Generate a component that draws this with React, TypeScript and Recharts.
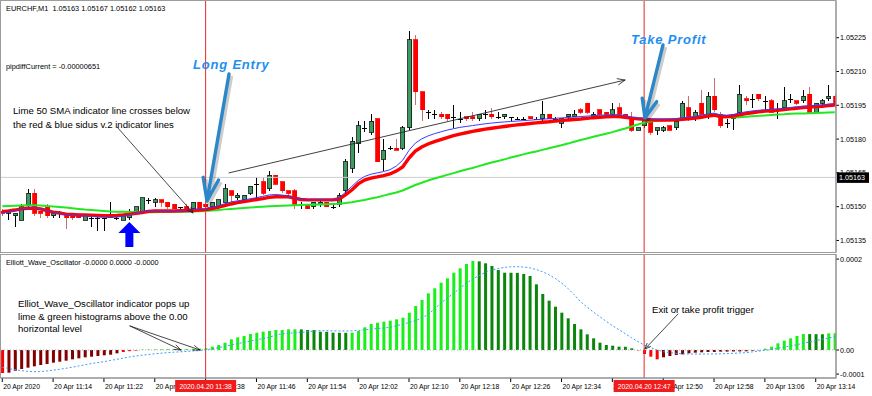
import { Bar, Cell, ComposedChart, Line, ReferenceDot, ReferenceLine, XAxis, YAxis } from "recharts";

const FONT = '"Liberation Sans", Arial, Helvetica, sans-serif';

// EURCHF M1, 20 Apr 2020, one entry per minute bar from 11:06 to 13:17.
// Quotes are written in points above 1.05000 (1.05148 -> 148).
const BASE = 1.05;
const POINT = 0.00001;

const opens = [
  148, 147, 146, 144, 151, 156, 148, 150, 146, 147,
  147, 146, 146, 144, 145, 145, 145, 145, 145, 144,
  145, 148, 148, 153, 152, 153, 152, 151, 150, 150,
  149, 152, 151, 150, 150, 152, 157, 154, 153, 156,
  160, 161, 158, 164, 161, 157, 157, 151, 151, 150,
  151, 152, 150, 151, 157, 167, 178, 185, 183, 189,
  171, 176, 176, 176, 185, 224, 201, 192, 191, 191,
  191, 190, 189, 190, 190, 189, 191, 191, 190, 190,
  190, 189, 189, 190, 189, 189, 191, 189, 187, 190,
  190, 193, 196, 190, 193, 192, 191, 194, 191, 189,
  184, 186, 188, 184, 184, 186, 185, 189, 194, 189,
  196, 190, 199, 191, 187, 189, 192, 198, 198, 200,
  197, 197, 193, 194, 198, 197, 197, 200, 192, 196,
  198, 199,
];
const highs = [
  149, 148, 147, 151, 158, 158, 148, 151, 148, 148,
  147, 146, 147, 146, 146, 146, 145, 152, 146, 146,
  149, 150, 154, 154, 154, 153, 152, 151, 150, 151,
  152, 152, 151, 152, 153, 160, 157, 156, 155, 159,
  163, 163, 166, 164, 161, 157, 158, 152, 151, 152,
  153, 152, 151, 156, 171, 181, 188, 188, 191, 189,
  180, 177, 180, 186, 228, 226, 201, 193, 193, 192,
  191, 195, 192, 190, 192, 191, 193, 194, 192, 191,
  190, 190, 190, 190, 190, 197, 191, 190, 189, 191,
  193, 194, 196, 192, 193, 192, 196, 196, 191, 192,
  185, 189, 189, 185, 186, 186, 188, 197, 199, 193,
  202, 201, 207, 192, 189, 191, 204, 199, 200, 200,
  199, 198, 196, 203, 200, 197, 202, 203, 196, 198,
  204, 200,
];
const lows = [
  146, 144, 141, 144, 149, 146, 145, 145, 145, 145,
  140, 144, 145, 144, 141, 139, 139, 145, 144, 144,
  144, 147, 148, 151, 150, 150, 149, 149, 149, 148,
  149, 149, 149, 150, 149, 152, 152, 153, 153, 155,
  154, 155, 157, 160, 156, 155, 149, 149, 149, 149,
  150, 150, 149, 150, 156, 165, 174, 183, 182, 170,
  166, 175, 175, 175, 184, 195, 188, 189, 189, 189,
  188, 185, 187, 188, 188, 188, 189, 189, 189, 189,
  188, 189, 189, 189, 189, 187, 189, 189, 185, 189,
  190, 191, 191, 189, 190, 190, 190, 190, 189, 183,
  184, 185, 182, 182, 183, 184, 184, 188, 188, 188,
  190, 189, 192, 185, 185, 184, 191, 195, 194, 197,
  193, 192, 189, 193, 196, 195, 196, 191, 191, 195,
  197, 194,
];
const closes = [
  147, 148, 147, 150, 156, 147, 147, 146, 147, 147,
  145, 145, 145, 146, 145, 145, 145, 146, 145, 146,
  146, 150, 154, 153, 153, 152, 150, 149, 150, 149,
  152, 149, 150, 152, 153, 158, 155, 155, 155, 159,
  160, 156, 164, 160, 157, 156, 151, 151, 149, 152,
  152, 150, 150, 155, 170, 179, 186, 185, 188, 170,
  175, 176, 175, 185, 224, 201, 193, 192, 191, 190,
  189, 190, 189, 189, 189, 191, 191, 190, 190, 191,
  190, 189, 189, 189, 189, 191, 189, 189, 189, 191,
  191, 192, 192, 191, 191, 191, 193, 191, 190, 184,
  185, 189, 183, 185, 185, 184, 188, 196, 189, 192,
  191, 199, 193, 186, 187, 191, 200, 197, 198, 198,
  197, 192, 193, 197, 198, 196, 199, 192, 196, 197,
  199, 195,
];

// sidus v.2 lines and the 50 SMA, same point units
const sidusBlue = [
  147.2, 147.6, 148.2, 148.9, 149.4, 149.5, 149.1, 148.3, 147.4, 146.9,
  146.4, 146.1, 145.9, 145.9, 145.7, 145.5, 145.3, 145.3, 145.4, 145.7,
  146.3, 147.0, 147.6, 148.1, 148.3, 148.3, 148.2, 148.2, 148.3, 148.4,
  148.6, 148.8, 149.1, 149.7, 150.4, 151.3, 152.1, 152.6, 153.0, 153.5,
  154.0, 154.6, 155.2, 155.4, 155.1, 154.6, 153.8, 153.2, 152.9, 153.0,
  153.1, 153.0, 152.9, 153.8, 156.4, 159.0, 161.6, 163.4, 164.4, 165.0,
  165.6, 166.4, 168.0, 170.6, 175.0, 178.2, 180.1, 181.4, 182.4, 183.2,
  184.0, 184.6, 185.2, 185.6, 186.0, 186.4, 186.8, 187.1, 187.4, 187.6,
  187.8, 188.0, 188.2, 188.4, 188.6, 188.8, 189.0, 189.2, 189.4, 189.6,
  189.8, 190.0, 190.2, 190.4, 190.6, 190.7, 190.8, 190.8, 190.4, 189.8,
  189.4, 189.2, 189.0, 188.8, 188.8, 188.8, 189.0, 189.4, 189.7, 190.1,
  190.6, 191.2, 191.5, 190.8, 190.6, 190.9, 191.6, 192.1, 192.5, 192.8,
  193.0, 193.2, 193.4, 193.7, 194.0, 194.3, 194.6, 194.8, 195.0, 195.2,
  195.5, 195.7,
];
const sidusRed = [
  147.8, 148.1, 148.5, 149.0, 149.3, 149.3, 149.0, 148.3, 147.6, 147.2,
  146.7, 146.5, 146.3, 146.3, 146.2, 146.1, 146.0, 146.0, 146.1, 146.3,
  146.6, 147.0, 147.4, 147.9, 148.1, 148.1, 148.1, 148.1, 148.2, 148.3,
  148.4, 148.5, 148.7, 149.2, 149.8, 150.5, 151.2, 151.8, 152.3, 152.7,
  153.2, 153.6, 154.1, 154.4, 154.5, 154.4, 153.8, 153.2, 153.0, 153.0,
  153.0, 153.0, 153.0, 153.4, 155.2, 157.4, 160.1, 161.8, 162.7, 163.2,
  163.8, 164.5, 165.8, 167.6, 171.6, 174.7, 176.5, 177.8, 178.9, 179.8,
  180.7, 181.5, 182.2, 182.8, 183.4, 183.9, 184.4, 184.8, 185.2, 185.6,
  186.0, 186.3, 186.6, 186.9, 187.2, 187.5, 187.7, 188.0, 188.2, 188.5,
  188.7, 188.9, 189.2, 189.5, 189.7, 189.9, 190.0, 190.0, 189.7, 189.3,
  189.0, 188.8, 188.6, 188.5, 188.5, 188.5, 188.6, 188.8, 189.0, 189.3,
  189.7, 190.2, 190.6, 190.0, 189.9, 190.2, 190.8, 191.3, 191.7, 192.1,
  192.4, 192.6, 192.8, 193.1, 193.4, 193.7, 194.0, 194.2, 194.4, 194.6,
  194.9, 195.1,
];
const sma50 = [
  150.2, 150.3, 150.4, 150.5, 150.6, 150.6, 150.5, 150.3, 150.1, 149.9,
  149.6, 149.3, 149.0, 148.7, 148.5, 148.3, 148.1, 147.9, 147.8, 147.7,
  147.6, 147.6, 147.6, 147.5, 147.5, 147.6, 147.6, 147.7, 147.7, 147.8,
  147.9, 148.0, 148.1, 148.3, 148.5, 148.8, 149.0, 149.2, 149.4, 149.6,
  149.8, 150.0, 150.2, 150.3, 150.4, 150.5, 150.6, 150.7, 150.8, 150.9,
  151.0, 151.1, 151.2, 151.3, 151.6, 152.0, 152.5, 153.0, 153.6, 154.2,
  154.9, 155.6, 156.3, 157.2, 158.4, 159.6, 160.6, 161.6, 162.5, 163.3,
  164.1, 164.9, 165.7, 166.5, 167.2, 168.0, 168.8, 169.6, 170.3, 171.0,
  171.8, 172.5, 173.2, 173.9, 174.5, 175.2, 175.9, 176.6, 177.3, 178.0,
  178.8, 179.6, 180.3, 181.0, 181.7, 182.4, 183.1, 183.9, 184.7, 185.6,
  186.5, 187.3, 187.8, 188.1, 188.4, 188.6, 188.8, 189.0, 189.2, 189.5,
  189.9, 190.4, 190.9, 190.5, 189.9, 189.6, 189.7, 189.9, 190.1, 190.3,
  190.5, 190.7, 190.9, 191.0, 191.2, 191.3, 191.4, 191.5, 191.6, 191.7,
  191.8, 191.9,
];

// Elliott Wave Oscillator, in millionths (1e-6)
const ewo = [
  -50.6, -49.9, -45.5, -41.8, -38.9, -35.9, -33.0, -30.8, -27.9, -25.7,
  -23.5, -20.5, -18.3, -16.1, -14.7, -13.2, -11.7, -10.3, -7.3, -4.4,
  -2.6, -1.5, 0.9, 1.1, 1.3, 1.5, 1.8, 2.0, 2.2, 2.4,
  2.6, 3.1, 3.7, 7.3, 11.0, 16.1, 23.5, 27.9, 30.8, 35.2,
  38.1, 40.3, 41.8, 44.0, 44.0, 45.5, 45.5, 45.3, 44.0, 43.8,
  40.3, 40.1, 38.1, 37.9, 37.8, 38.2, 41.8, 49.9, 57.2, 60.1,
  62.3, 64.5, 67.5, 71.1, 82.1, 96.8, 110.0, 124.7, 135.7, 148.1,
  157.7, 170.1, 179.7, 189.2, 195.8, 195.0, 190.7, 184.8, 176.0, 170.1,
  169.9, 169.7, 167.2, 162.8, 144.5, 123.2, 108.5, 95.3, 82.1, 69.7,
  57.2, 45.5, 34.5, 25.7, 16.1, 11.0, 9.5, 7.3, 7.1, 3.7,
  -0.9, -8.8, -14.7, -20.5, -16.1, -13.2, -11.0, -9.5, -7.3, -5.9,
  -5.1, -4.4, -4.3, -3.7, -3.6, -3.3, -3.2, -2.9, -1.5, -0.7,
  2.9, 7.3, 14.7, 20.5, 25.7, 30.8, 35.2, 35.0, 34.8, 34.6,
  36.7, 36.9,
];
const ewoSignal = [
  -38.1, -40.7, -43.3, -45.3, -46.9, -47.7, -47.5, -46.2, -44.4, -42.5,
  -40.3, -37.8, -35.2, -32.6, -29.9, -27.7, -25.7, -23.1, -20.5, -17.8,
  -15.4, -13.2, -11.4, -9.9, -8.4, -7.0, -5.9, -4.8, -4.0, -3.1,
  -2.2, -1.5, 0.4, 2.6, 5.3, 8.1, 11.0, 13.9, 16.7, 19.6,
  22.4, 25.1, 27.9, 32.6, 35.6, 37.0, 37.6, 38.5, 40.3, 41.8,
  42.5, 42.5, 42.2, 42.0, 41.8, 42.2, 43.1, 44.4, 45.8, 47.1,
  48.4, 49.9, 53.2, 56.8, 60.5, 64.5, 70.4, 78.1, 90.2, 102.7,
  113.7, 124.7, 135.7, 146.7, 156.2, 163.5, 170.5, 175.6, 179.3, 181.7,
  183.0, 183.3, 182.6, 180.8, 177.1, 172.3, 165.7, 157.7, 147.4, 135.7,
  121.4, 106.3, 94.6, 83.6, 73.3, 63.4, 53.7, 45.1, 36.1, 27.1,
  18.7, 11.0, 5.3, 0.4, -3.7, -5.7, -7.3, -8.4, -8.8, -9.0,
  -9.0, -8.8, -8.8, -8.4, -7.9, -7.3, -6.6, -5.9, -4.2, -2.4,
  -0.7, 1.3, 3.7, 6.2, 8.8, 11.7, 14.5, 17.6, 20.5, 23.3,
  26.4, 29.3,
];
// histogram colour runs: L lime, G green, R red, M maroon
const ewoShadeRuns: [string, number][] = [
  ["R", 1], ["M", 18], ["R", 3], ["L", 25], ["G", 8], ["L", 20],
  ["G", 25], ["R", 4], ["M", 16], ["L", 7], ["G", 3], ["L", 2],
];

const priceTicks = [1.05135, 1.0515, 1.05165, 1.0518, 1.05195, 1.0521, 1.05225];
const ewoTicks = [-53, 0, 200];
const timeTicks = [0, 8, 16, 24, 32, 40, 48, 56, 64, 72, 80, 88, 96, 104, 112, 120, 128];
const timeTickLabels = [
  "20 Apr 2020", "20 Apr 11:14", "20 Apr 11:22", "20 Apr 11:30", "20 Apr 11:38",
  "20 Apr 11:46", "20 Apr 11:54", "20 Apr 12:02", "20 Apr 12:10", "20 Apr 12:18",
  "20 Apr 12:26", "20 Apr 12:34", "20 Apr 12:42", "20 Apr 12:50", "20 Apr 12:58",
  "20 Apr 13:06", "20 Apr 13:14",
];
const markerBars = [32, 101];
const markerLabels = ["2020.04.20 11:38", "2020.04.20 12:47"];
const lastPrice = 1.05163;

const X_DOMAIN: [number, number] = [-0.2, 131.19];
const PRICE_DOMAIN: [number, number] = [1.0512988, 1.0524129];
const EWO_DOMAIN: [number, number] = [-61.6, 211.2];
const PLOT_L = 1;
const PLOT_R = 836;
const TOP_Y0 = 1;
const TOP_H = 251;

const xOf = (i: number) => PLOT_L + ((i - X_DOMAIN[0]) / (X_DOMAIN[1] - X_DOMAIN[0])) * (PLOT_R - PLOT_L);
const yOfPrice = (p: number) => TOP_Y0 + ((PRICE_DOMAIN[1] - p) / (PRICE_DOMAIN[1] - PRICE_DOMAIN[0])) * TOP_H;

const SHADE: Record<string, string> = { L: "#19f019", G: "#0b850b", R: "#ff0000", M: "#820000" };

const toPrice = (v: number) => +(BASE + v * POINT).toFixed(6);
const shades = ewoShadeRuns.flatMap(([s, n]) => Array(n).fill(s) as string[]);

const rows = opens.map((o, i) => ({
  i,
  o: toPrice(o),
  h: toPrice(highs[i]),
  l: toPrice(lows[i]),
  c: toPrice(closes[i]),
  range: [toPrice(lows[i]), toPrice(highs[i])],
  blue: toPrice(sidusBlue[i]),
  red: toPrice(sidusRed[i]),
  lime: toPrice(sma50[i]),
  ewo: ewo[i],
  sig: ewoSignal[i],
  shade: shades[i],
}));

// hand drawn arrows of the screenshot, in (bar, value) coordinates
const longEntryArrow = [{ x: 35.68, y: 1.052089 }, { x: 32.21, y: 1.051525 }];
const takeProfitArrow = [{ x: 103.97, y: 1.052218 }, { x: 101.13, y: 1.051894 }];
const trendArrow = [{ x: 35.68, y: 1.05165 }, { x: 98.0, y: 1.052062 }];
const smaNoteArrow = [{ x: 18.05, y: 1.051854 }, { x: 30.01, y: 1.051472 }];
const ewoNoteArrows = [
  [{ x: 20.1, y: 52.8 }, { x: 28.12, y: 0 }],
  [{ x: 20.1, y: 52.8 }, { x: 31.11, y: 0 }],
];
const exitArrow = [{ x: 106.33, y: 79.2 }, { x: 101.13, y: 2.2 }];
const upArrowAt = { x: 20, y: 1.051432 };

function Candle(props: any) {
  const { x, y, width, height, payload } = props;
  if (!payload || height == null) return null;
  const { o, h, l, c } = payload;
  const k = h > l ? height / (h - l) : 0;
  const cx = Math.round(x + width / 2) + 0.5;
  const yTop = y + (h - Math.max(o, c)) * k;
  const yBot = y + (h - Math.min(o, c)) * k;
  if (c === o) {
    const yy = Math.round(yTop) + 0.5;
    return (
      <g shapeRendering="crispEdges">
        <line x1={cx} x2={cx} y1={y} y2={y + height} stroke="#000" />
        <line x1={cx - 2.5} x2={cx + 2.5} y1={yy} y2={yy} stroke="#000" />
      </g>
    );
  }
  const bull = c > o;
  return (
    <g shapeRendering="crispEdges">
      <line x1={cx} x2={cx} y1={y} y2={y + height} stroke={bull ? "#000" : "#c87070"} />
      <rect
        x={cx - 2}
        y={yTop}
        width={4}
        height={Math.max(1, yBot - yTop)}
        fill={bull ? "#3a9c62" : "#ff0000"}
        stroke={bull ? "#111" : "#ff0000"}
        strokeWidth={0.8}
      />
    </g>
  );
}

function arrowShape(color: string, width: number, head: number, spread: number, shadow = false) {
  return (p: any) => {
    const { x1, y1, x2, y2 } = p;
    const a = Math.atan2(y2 - y1, x2 - x1);
    const ax = x2 - head * Math.cos(a - spread);
    const ay = y2 - head * Math.sin(a - spread);
    const bx = x2 - head * Math.cos(a + spread);
    const by = y2 - head * Math.sin(a + spread);
    const d = `M${x1},${y1}L${x2},${y2}M${ax},${ay}L${x2},${y2}L${bx},${by}`;
    return (
      <g>
        {shadow && (
          <path d={d} transform="translate(2,2)" stroke="rgba(0,0,0,0.2)" strokeWidth={width + 1} fill="none" />
        )}
        <path d={d} stroke={color} strokeWidth={width} fill="none" strokeLinecap="round" strokeLinejoin="round" />
      </g>
    );
  };
}

const upArrow = (p: any) => {
  const { cx, cy } = p;
  const pts = [
    [0, 0], [11, 11], [4, 11], [4, 25], [-4, 25], [-4, 11], [-11, 11],
  ].map(([dx, dy]) => `${cx + dx},${cy + dy}`).join(" ");
  return <polygon points={pts} fill="#0000ff" />;
};

const TimeTick = (p: any) => {
  const { x, y, payload } = p;
  const label = timeTickLabels[timeTicks.indexOf(payload.value)];
  return (
    <text x={x + 1} y={y} dy="0.71em" textAnchor="start" fontSize={6.8} fontFamily={FONT} fill="#000">
      {label}
    </text>
  );
};

const axisTick = { fontSize: 7.2, fill: "#000", fontFamily: FONT };

function Note({ x, y, children, size = 9.6, weight = "normal", italic = false, color = "#000", spacing = 0 }: any) {
  return (
    <text
      x={x}
      y={y}
      dominantBaseline="central"
      fontSize={size}
      fontWeight={weight}
      fontStyle={italic ? "italic" : "normal"}
      fill={color}
      letterSpacing={spacing}
      fontFamily={FONT}
    >
      {children}
    </text>
  );
}

export default function App() {
  const tagY = yOfPrice(lastPrice);
  return (
    <div style={{ position: "absolute", left: 0, top: 0, width: 872, height: 396, background: "#fff", overflow: "hidden" }}>
      <div style={{ position: "absolute", left: 0, top: 0 }}>
        <ComposedChart width={872} height={254} data={rows} margin={{ top: 1, right: 0, bottom: 2, left: 1 }}>
          <XAxis dataKey="i" type="number" domain={X_DOMAIN} hide allowDataOverflow />
          <YAxis
            orientation="right"
            width={36}
            domain={PRICE_DOMAIN}
            allowDataOverflow
            ticks={priceTicks}
            interval={0}
            tickFormatter={(v: number) => v.toFixed(5)}
            tick={axisTick}
            tickSize={3}
            tickMargin={1}
            tickLine={{ stroke: "#000" }}
            axisLine={{ stroke: "#7c7c7c" }}
          />
          <ReferenceLine y={lastPrice} stroke="#cdcdcd" />
          {markerBars.map((m) => (
            <ReferenceLine key={m} x={m} stroke="#e8262b" />
          ))}
          <Bar dataKey="range" barSize={4} shape={Candle} isAnimationActive={false} />
          <Line dataKey="lime" stroke="#22e822" strokeWidth={2} dot={false} activeDot={false} isAnimationActive={false} />
          <Line dataKey="red" stroke="#ff0000" strokeWidth={3.4} dot={false} activeDot={false} isAnimationActive={false} />
          <Line dataKey="blue" stroke="#3a3aff" strokeWidth={1} dot={false} activeDot={false} isAnimationActive={false} />
          <ReferenceLine segment={trendArrow} ifOverflow="visible" shape={arrowShape("#2a2a2a", 0.9, 8, 0.4)} />
          <ReferenceLine segment={smaNoteArrow} ifOverflow="visible" shape={arrowShape("#1a1a1a", 0.8, 6, 0.4)} />
          <ReferenceLine segment={longEntryArrow} ifOverflow="visible" shape={arrowShape("#2b87c8", 3.4, 24, 0.33, true)} />
          <ReferenceLine segment={takeProfitArrow} ifOverflow="visible" shape={arrowShape("#2b87c8", 3.4, 20, 0.38, true)} />
          <ReferenceDot x={upArrowAt.x} y={upArrowAt.y} r={1} shape={upArrow} />
        </ComposedChart>
      </div>

      <div style={{ position: "absolute", left: 0, top: 253 }}>
        <ComposedChart width={872} height={143} data={rows} margin={{ top: 1, right: 0, bottom: 0, left: 1 }}>
          <XAxis
            dataKey="i"
            type="number"
            domain={X_DOMAIN}
            allowDataOverflow
            ticks={timeTicks}
            interval={0}
            height={18}
            tick={TimeTick}
            tickSize={4}
            tickMargin={2}
            tickLine={{ stroke: "#000" }}
            axisLine={{ stroke: "#7c7c7c" }}
          />
          <YAxis
            orientation="right"
            width={36}
            domain={EWO_DOMAIN}
            allowDataOverflow
            ticks={ewoTicks}
            interval={0}
            tickFormatter={(v: number) => (v === 0 ? "0.00" : (v * 1e-6).toFixed(4))}
            tick={axisTick}
            tickSize={3}
            tickMargin={1}
            tickLine={{ stroke: "#000" }}
            axisLine={{ stroke: "#7c7c7c" }}
          />
          <ReferenceLine y={0} stroke="#b0b0b0" strokeDasharray="1 2" />
          {markerBars.map((m) => (
            <ReferenceLine key={m} x={m} stroke="#e8262b" />
          ))}
          <Bar dataKey="ewo" barSize={3} isAnimationActive={false}>
            {rows.map((r) => (
              <Cell key={r.i} fill={SHADE[r.shade]} />
            ))}
          </Bar>
          <Line
            dataKey="sig"
            stroke="#3d9cff"
            strokeWidth={1}
            strokeDasharray="2 2"
            dot={false}
            activeDot={false}
            isAnimationActive={false}
          />
          {ewoNoteArrows.map((seg, k) => (
            <ReferenceLine key={k} segment={seg} ifOverflow="visible" shape={arrowShape("#1a1a1a", 0.8, 7, 0.35)} />
          ))}
          <ReferenceLine segment={exitArrow} ifOverflow="visible" shape={arrowShape("#1a1a1a", 0.8, 6, 0.4)} />
        </ComposedChart>
      </div>

      <svg width={872} height={396} style={{ position: "absolute", left: 0, top: 0, pointerEvents: "none" }}>
        <rect x={0.5} y={0.5} width={835.5} height={252} fill="none" stroke="#9c9c9c" />
        <rect x={0.5} y={254.5} width={835.5} height={123.5} fill="none" stroke="#9c9c9c" />

        <rect x={837} y={tagY - 5} width={32} height={10.5} fill="#000" />
        <text x={839} y={tagY + 0.3} dominantBaseline="central" fontSize={7.2} fontFamily={FONT} fill="#fff">
          {lastPrice.toFixed(5)}
        </text>

        {markerBars.map((m, k) => (
          <g key={m}>
            <rect x={xOf(m) - 30.5} y={380} width={61} height={12} fill="#f01c1c" />
            <text x={xOf(m)} y={386.3} dominantBaseline="central" textAnchor="middle" fontSize={6.8} fontFamily={FONT} fill="#fff">
              {markerLabels[k]}
            </text>
          </g>
        ))}

        <Note x={6} y={8.5} size={7.4}>EURCHF,M1&#160;&#160;1.05163 1.05167 1.05162 1.05163</Note>
        <Note x={6} y={66} size={7.4}>pipdiffCurrent = -0.00000651</Note>
        <Note x={193} y={64} size={13} weight="bold" italic color="#1e8ff0" spacing={0.8}>Long Entry</Note>
        <Note x={631} y={39} size={13} weight="bold" italic color="#1e8ff0" spacing={0.8}>Take Profit</Note>
        <Note x={13} y={110}>Lime 50 SMA indicator line crosses below</Note>
        <Note x={13} y={124}>the red &amp; blue sidus v.2 indicator lines</Note>

        <Note x={6} y={262} size={7.3}>Elliott_Wave_Oscillator -0.0000 0.0000 -0.0000</Note>
        <Note x={18} y={303}>Elliot_Wave_Oscillator indicator pops up</Note>
        <Note x={18} y={316}>lime &amp; green histograms above the 0.00</Note>
        <Note x={18} y={328}>horizontal level</Note>
        <Note x={652} y={309}>Exit or take profit trigger</Note>
      </svg>
    </div>
  );
}
